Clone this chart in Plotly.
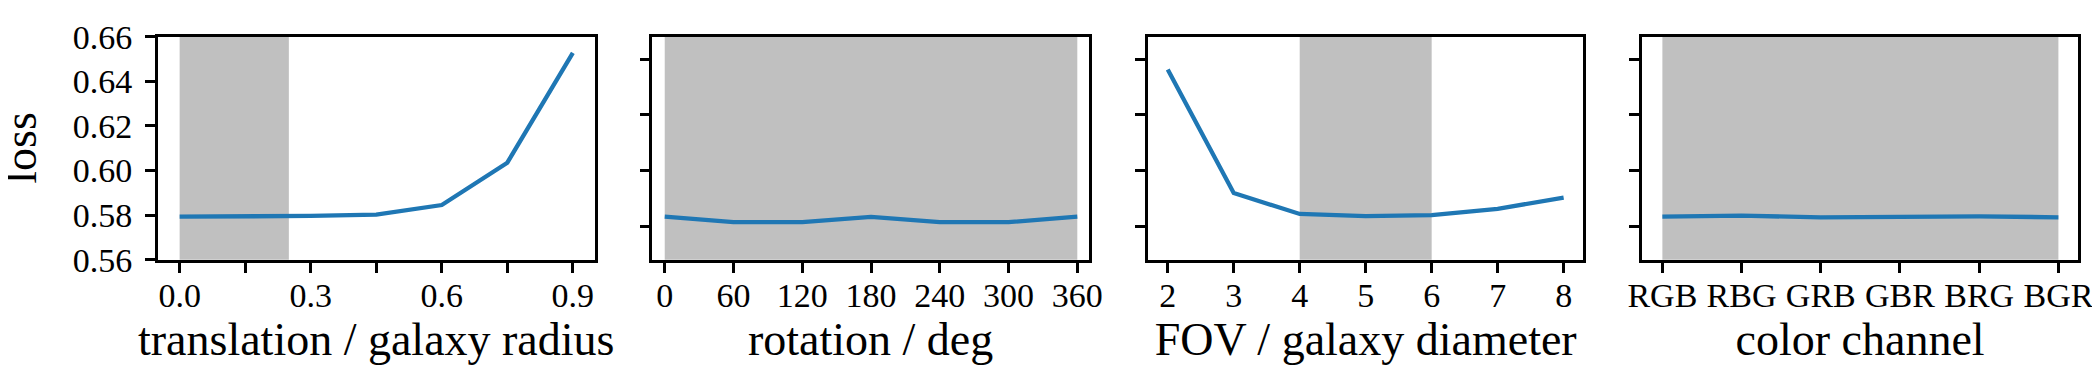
import plotly.graph_objects as go

# ---- data ----
translation = [0.0, 0.15, 0.3, 0.45, 0.6, 0.75, 0.9]
loss_translation = [0.5793, 0.5793, 0.5796, 0.5802, 0.5845, 0.6035, 0.6528]
translation_ticks = ["0.0", "", "0.3", "", "0.6", "", "0.9"]
translation_shade = [0.0, 0.25]

rotation = [0, 60, 120, 180, 240, 300, 360]
loss_rotation = [0.5793, 0.5768, 0.5768, 0.5792, 0.5768, 0.5768, 0.5793]
rotation_shade = [0, 360]

fov = [2, 3, 4, 5, 6, 7, 8]
loss_fov = [0.6453, 0.5899, 0.5805, 0.5795, 0.5800, 0.5828, 0.5878]
fov_shade = [4, 6]

channels = ["RGB", "RBG", "GRB", "GBR", "BRG", "BGR"]
loss_channel = [0.5793, 0.5797, 0.5790, 0.5791, 0.5794, 0.5790]
channel_shade = ["RGB", "BGR"]

y_ticks_main = [0.56, 0.58, 0.60, 0.62, 0.64, 0.66]
y_ticks_other = [0.575, 0.6, 0.625, 0.65]

y_title = "loss"
x_titles = ["translation / galaxy radius", "rotation / deg",
            "FOV / galaxy diameter", "color channel"]

# ---- layout ----
W, H = 2100, 368
FONT = "Liberation Serif, Times New Roman, DejaVu Serif, serif"
BLUE = "#1f77b4"
SHADE = "#c0c0c0"

x_dom = [(137.7, 580.7), (639.3, 1081.7), (1141.7, 1583.3), (1642.7, 2085.0)]
y_dom = [1 - 260.0 / H, 1 - 11.7 / H]

fig = go.Figure()

series = [
    (translation, loss_translation),
    (rotation, loss_rotation),
    (fov, loss_fov),
    (channels, loss_channel),
]
for i, (xs, ys) in enumerate(series):
    fig.add_trace(go.Scatter(
        x=xs, y=ys, mode="lines",
        line=dict(color=BLUE, width=4.3),
        xaxis="x" if i == 0 else f"x{i+1}",
        yaxis="y" if i == 0 else f"y{i+1}",
        showlegend=False,
    ))

shades = [translation_shade, rotation_shade, fov_shade, channel_shade]
for i, (a, b) in enumerate(shades):
    fig.add_shape(type="rect", xref="x" if i == 0 else f"x{i+1}",
                  yref="y domain" if i == 0 else f"y{i+1} domain",
                  x0=a, x1=b, y0=0, y1=1, fillcolor=SHADE,
                  line=dict(width=0), layer="below")

axis_common = dict(showline=True, linecolor="black", linewidth=2.5, mirror=True,
                   ticks="outside", ticklen=10, tickwidth=2.5, tickcolor="black",
                   showgrid=False, zeroline=False, ticklabeloverflow="allow",
                   tickfont=dict(family=FONT, size=34, color="black"))

x_ranges = [[-0.05, 0.95], [-10.7, 370.0], [1.7, 8.3], [-0.257, 5.25]]
x_tickvals = [translation, rotation, fov, None]
x_ticktext = [translation_ticks, [str(v) for v in rotation], [str(v) for v in fov], None]

layout = dict(width=W, height=H, margin=dict(l=0, r=0, t=0, b=0),
              plot_bgcolor="white", paper_bgcolor="white",
              font=dict(family=FONT, color="black"))

for i in range(4):
    xk = "xaxis" if i == 0 else f"xaxis{i+1}"
    yk = "yaxis" if i == 0 else f"yaxis{i+1}"
    xa = dict(axis_common)
    xa.update(domain=[x_dom[i][0] / W, x_dom[i][1] / W], range=x_ranges[i],
              anchor="y" if i == 0 else f"y{i+1}",
              ticklabelstandoff=-6,
              title=dict(text=x_titles[i], font=dict(family=FONT, size=46, color="black"),
                         standoff=0))
    if i < 3:
        xa.update(tickmode="array", tickvals=x_tickvals[i], ticktext=x_ticktext[i])
    else:
        xa.update(type="category")
    ya = dict(axis_common)
    ya.update(domain=y_dom, range=[0.5599, 0.6601],
              anchor="x" if i == 0 else f"x{i+1}")
    if i == 0:
        ya.update(tickmode="array", tickvals=y_ticks_main,
                  ticktext=[f"{v:.2f}" for v in y_ticks_main],
                  ticklabelstandoff=6)
    else:
        ya.update(tickmode="array", tickvals=y_ticks_other, showticklabels=False)
    layout[xk] = xa
    layout[yk] = ya

fig.update_layout(**layout)
fig.add_annotation(text=y_title, textangle=-90, xref="paper", yref="paper",
                   x=0, y=(y_dom[0] + y_dom[1]) / 2, xanchor="left", yanchor="middle",
                   xshift=-29, showarrow=False,
                   font=dict(family=FONT, size=46, color="black"))
fig.write_html("out.html")
